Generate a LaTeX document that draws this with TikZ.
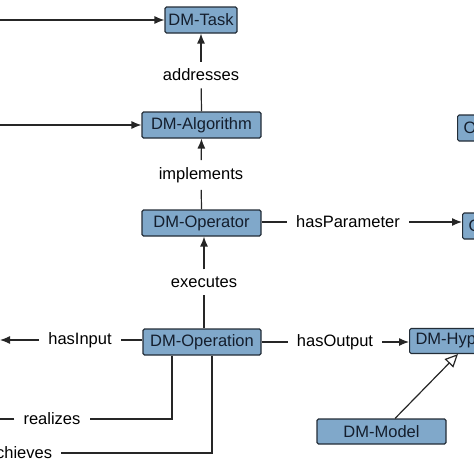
\documentclass[tikz,border=0pt]{standalone}
\usepackage{fontspec}
\setmainfont{Liberation Sans}
\usepackage{tikz}
\usetikzlibrary{arrows.meta}

\definecolor{dmblue}{RGB}{128,168,202}
\definecolor{dmedge}{RGB}{35,45,55}
\definecolor{dmtext}{RGB}{20,30,45}

\begin{document}
\begin{tikzpicture}[
    x=1pt, y=-1pt,
    cls/.style={rectangle, draw=dmedge, line width=1.1pt, rounded corners=1.5pt,
                fill=dmblue, text=dmtext, minimum height=26pt, inner sep=2pt,
                font=\fontsize{16.5}{19}\selectfont},
    cut/.style={cls, anchor=west, text width=90pt, align=left, inner xsep=6pt},
    lbl/.style={inner xsep=9pt, inner ysep=7pt, font=\fontsize{16.5}{19}\selectfont},
    rel/.style={line width=1.2pt, draw=black!85},
    tip/.style={rel, -{Latex[length=10pt, width=8pt]}},
    isa/.style={rel, -{Triangle[open, length=13pt, width=12pt]}},
  ]
  \useasboundingbox (0,0) rectangle (474,474);
  \clip (0,0) rectangle (474,474);

  % Classes
  \node[cls, minimum width=72pt] (task) at (201, 20) {DM-Task};
  \node[cls, minimum width=119pt] (alg) at (201.5, 125) {DM-Algorithm};
  \node[cls, minimum width=119pt] (opr) at (201.5, 223) {DM-Operator};
  \node[cls, minimum width=118pt] (opn) at (202, 342) {DM-Operation};
  \node[cls, minimum width=129pt, minimum height=25pt] (model) at (381.5, 431.5) {DM-Model};
  \node[cut, minimum height=25pt] (hyp) at (409, 341) {DM-Hyp};
  \node[cut] (oa) at (457, 128) {O};
  \node[cut] (ob) at (462, 226) {O};

  % Classes outside the frame
  \coordinate (lt) at (-60, 20);
  \coordinate (la) at (-60, 125);
  \coordinate (li) at (0, 340);
  \coordinate (lr) at (-60, 419);

  % Relation labels
  \node[lbl] (addr) at (201, 75) {addresses};
  \node[lbl] (impl) at (201, 175) {implements};
  \node[lbl] (exec) at (204, 282) {executes};
  \node[lbl] (hpar) at (348, 222) {hasParameter};
  \node[lbl] (hin) at (80, 340) {hasInput};
  \node[lbl] (hout) at (335, 342) {hasOutput};
  \node[lbl] (real) at (52, 419) {realizes};
  \node[lbl] (achv) at (19.5, 453) {achieves};

  % Incoming from the left
  \draw[tip] (lt) -- (task.west);
  \draw[tip] (la) -- (alg.west);

  % Vertical chain
  \draw[rel] (alg.north) -- (addr);
  \draw[tip] (addr) -- (task.south);
  \draw[rel] (opr.north) -- (impl);
  \draw[tip] (impl) -- (alg.south);
  \draw[rel] (opn.north -| exec) -- (exec);
  \draw[tip] (exec) -- (exec |- opr.south);

  % Operator / Operation relations
  \draw[rel] (opr.east |- hpar) -- (hpar);
  \draw[tip] (hpar) -- (hpar -| ob.west);
  \draw[rel] (opn.west |- hin) -- (hin);
  \draw[tip] (hin) -- (li);
  \draw[rel] (opn.east) -- (hout);
  \draw[tip] (hout) -- (hout -| hyp.west);
  \draw[rel] ([xshift=-30pt]opn.south) |- (real);
  \draw[rel] (real) -- (lr);
  \draw[rel] ([xshift=10pt]opn.south) |- (achv);

  % Generalisation
  \draw[isa] ([xshift=13.5pt]model.north) -- ([xshift=49pt]hyp.south west);
\end{tikzpicture}
\end{document}
